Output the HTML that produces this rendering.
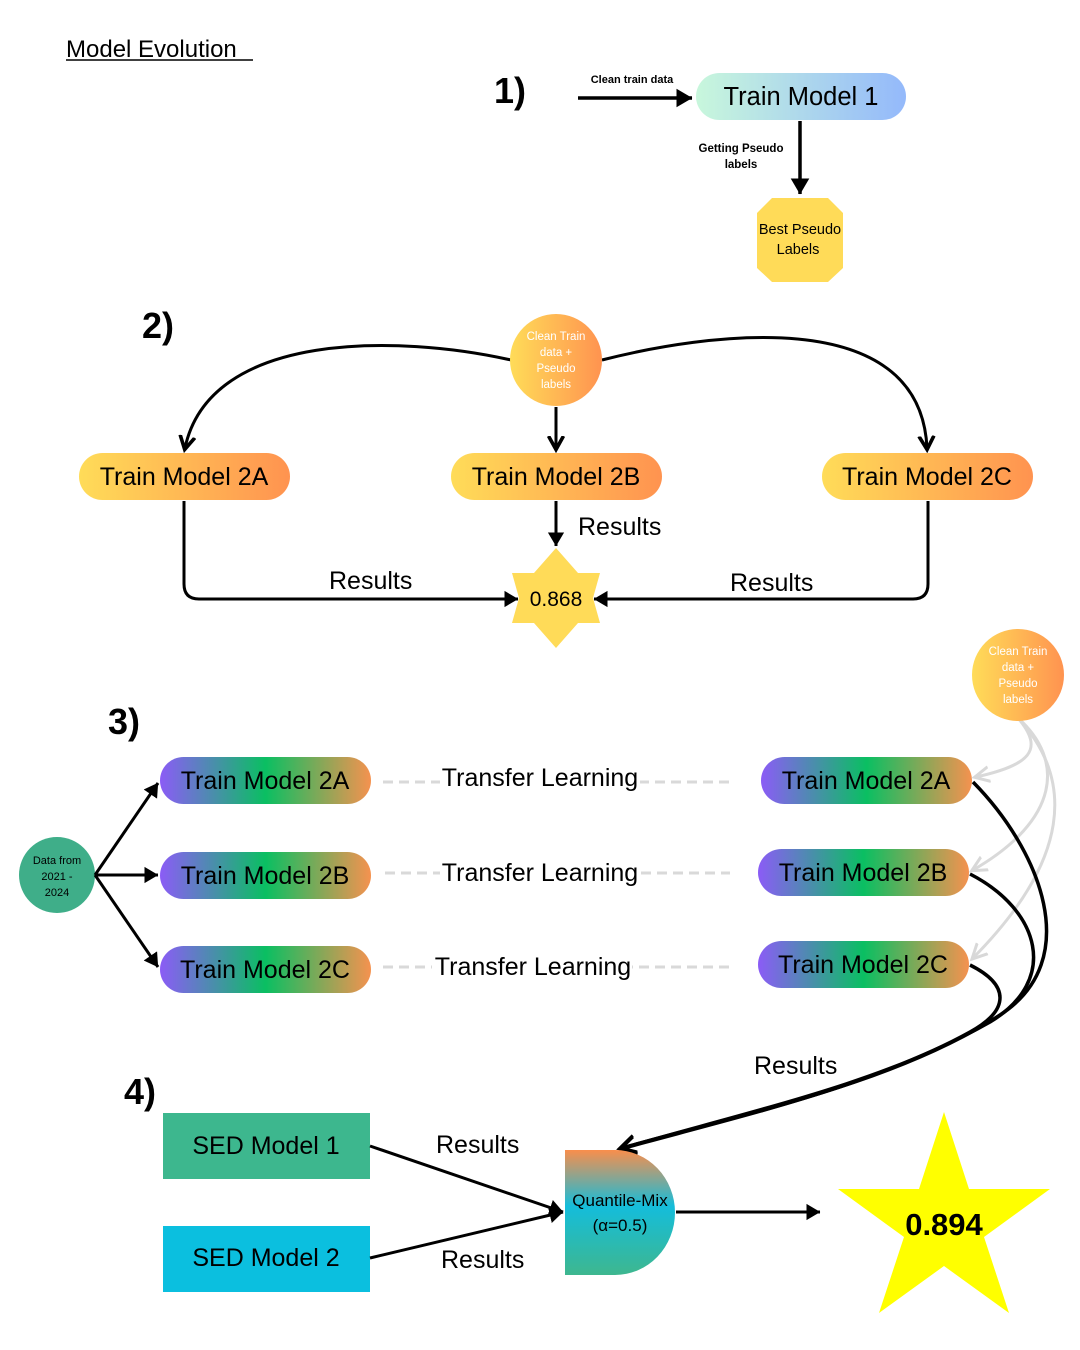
<!DOCTYPE html>
<html><head><meta charset="utf-8"><style>
html,body{margin:0;padding:0;background:#fff}
svg{display:block}
text{font-family:"Liberation Sans",sans-serif}
</style></head><body>
<svg width="1080" height="1350" viewBox="0 0 1080 1350" xmlns="http://www.w3.org/2000/svg">
<defs>
<linearGradient id="g1" x1="0" x2="1"><stop offset="0" stop-color="#c8f7dc"/><stop offset="1" stop-color="#94b9fb"/></linearGradient>
<linearGradient id="g2" x1="0" x2="1"><stop offset="0" stop-color="#ffdc58"/><stop offset="1" stop-color="#ff9350"/></linearGradient>
<linearGradient id="g3" x1="0" x2="1"><stop offset="0" stop-color="#8b5cf6"/><stop offset="0.5" stop-color="#0abf62"/><stop offset="1" stop-color="#f5924f"/></linearGradient>
<linearGradient id="gq" x1="0" y1="0" x2="0" y2="1"><stop offset="0" stop-color="#f98e4c"/><stop offset="0.45" stop-color="#14bddb"/><stop offset="1" stop-color="#3eb78f"/></linearGradient>
<marker id="ah" markerWidth="6" markerHeight="6" refX="4.5" refY="3" orient="auto" markerUnits="strokeWidth"><path d="M0,0.3 L4.6,3 L0,5.7 Z" fill="#000"/></marker>
<marker id="ahg" markerWidth="6" markerHeight="6" refX="4.5" refY="3" orient="auto" markerUnits="strokeWidth"><path d="M0,0.5 L5,3 L0,5.5" fill="none" stroke="#d8d8d8" stroke-width="1"/></marker>
<marker id="ahl" markerWidth="6" markerHeight="6" refX="4" refY="3" orient="auto" markerUnits="strokeWidth"><path d="M0,0.5 L4.5,3 L0,5.5" fill="none" stroke="#000" stroke-width="1.2"/></marker>
</defs>

<text x="66" y="57" font-size="24">Model Evolution </text>
<line x1="66" y1="60" x2="253" y2="60" stroke="#000" stroke-width="1.5"/>

<!-- Section 1 -->
<text x="494" y="103" font-size="36" font-weight="bold">1)</text>
<text x="632" y="83" font-size="11" font-weight="bold" text-anchor="middle">Clean train data</text>
<line x1="578" y1="98" x2="692" y2="98" stroke="#000" stroke-width="3.5" marker-end="url(#ah)"/>
<rect x="696" y="73" width="210" height="47" rx="23.5" fill="url(#g1)"/>
<text x="801" y="105" font-size="25.5" text-anchor="middle">Train Model 1</text>
<line x1="800" y1="121" x2="800" y2="194" stroke="#000" stroke-width="3.5" marker-end="url(#ah)"/>
<text x="741" y="152" font-size="11.5" font-weight="bold" text-anchor="middle">Getting Pseudo</text>
<text x="741" y="168" font-size="11.5" font-weight="bold" text-anchor="middle">labels</text>
<polygon points="772,198 828,198 843,213 843,268 828,282 772,282 757,268 757,213" fill="#ffdb58"/>
<text x="800" y="234" font-size="14.5" text-anchor="middle">Best Pseudo</text>
<text x="798" y="254" font-size="14.5" text-anchor="middle">Labels</text>

<!-- Section 2 -->
<text x="142" y="338" font-size="36" font-weight="bold">2)</text>
<path d="M511,360 C400,335 210,330 185,448" fill="none" stroke="#000" stroke-width="3" marker-end="url(#ahl)"/>
<path d="M602,360 C700,335 920,300 927,448" fill="none" stroke="#000" stroke-width="3" marker-end="url(#ahl)"/>
<circle cx="556" cy="360" r="46" fill="url(#g2)"/>
<g font-size="11.5" fill="#fff" text-anchor="middle"><text x="556" y="340">Clean Train</text><text x="556" y="356">data +</text><text x="556" y="372">Pseudo</text><text x="556" y="388">labels</text></g>
<line x1="556" y1="407" x2="556" y2="448" stroke="#000" stroke-width="3" marker-end="url(#ahl)"/>
<rect x="79" y="453" width="211" height="47" rx="23.5" fill="url(#g2)"/>
<text x="184" y="485" font-size="25" text-anchor="middle">Train Model 2A</text>
<rect x="451" y="453" width="211" height="47" rx="23.5" fill="url(#g2)"/>
<text x="556" y="485" font-size="25" text-anchor="middle">Train Model 2B</text>
<rect x="822" y="453" width="211" height="47" rx="23.5" fill="url(#g2)"/>
<text x="927" y="485" font-size="25" text-anchor="middle">Train Model 2C</text>
<line x1="556" y1="501" x2="556" y2="546" stroke="#000" stroke-width="3" marker-end="url(#ah)"/>
<text x="578" y="535" font-size="25">Results</text>
<path d="M184,501 V584 Q184,599 199,599 H518" fill="none" stroke="#000" stroke-width="3" marker-end="url(#ah)"/>
<path d="M928,501 V584 Q928,599 913,599 H594" fill="none" stroke="#000" stroke-width="3" marker-end="url(#ah)"/>
<text x="329" y="589" font-size="25">Results</text>
<text x="730" y="591" font-size="25">Results</text>
<polygon points="556,548 578,573 600,573 593,598 600,623 578,623 556,648 534,623 512,623 519,598 512,573 534,573" fill="#ffdb58"/>
<text x="556" y="606" font-size="21" text-anchor="middle">0.868</text>

<!-- Section 3 -->
<text x="108" y="734" font-size="36" font-weight="bold">3)</text>
<circle cx="57" cy="875" r="38" fill="#3fae89"/>
<g font-size="11" text-anchor="middle"><text x="57" y="864">Data from</text><text x="57" y="880">2021 -</text><text x="57" y="896">2024</text></g>
<line x1="95" y1="875" x2="158" y2="783" stroke="#000" stroke-width="3" marker-end="url(#ah)"/>
<line x1="95" y1="875" x2="158" y2="875" stroke="#000" stroke-width="3" marker-end="url(#ah)"/>
<line x1="95" y1="875" x2="158" y2="967" stroke="#000" stroke-width="3" marker-end="url(#ah)"/>
<rect x="160" y="757" width="211" height="47" rx="23.5" fill="url(#g3)"/>
<text x="265" y="789" font-size="25" text-anchor="middle">Train Model 2A</text>
<rect x="160" y="852" width="211" height="47" rx="23.5" fill="url(#g3)"/>
<text x="265" y="884" font-size="25" text-anchor="middle">Train Model 2B</text>
<rect x="160" y="946" width="211" height="47" rx="23.5" fill="url(#g3)"/>
<text x="265" y="978" font-size="25" text-anchor="middle">Train Model 2C</text>
<g stroke="#d9d9d9" stroke-width="3" stroke-dasharray="10,6">
<line x1="383" y1="782" x2="730" y2="782"/><line x1="385" y1="873" x2="730" y2="873"/><line x1="383" y1="967" x2="730" y2="967"/>
</g>
<g font-size="25" text-anchor="middle"><rect x="440" y="762" width="200" height="30" fill="#fff"/><text x="540" y="786">Transfer Learning</text>
<rect x="440" y="857" width="200" height="30" fill="#fff"/><text x="540" y="881">Transfer Learning</text>
<rect x="432" y="951" width="200" height="30" fill="#fff"/><text x="533" y="975">Transfer Learning</text></g>
<rect x="761" y="757" width="211" height="47" rx="23.5" fill="url(#g3)"/>
<text x="866" y="789" font-size="25" text-anchor="middle">Train Model 2A</text>
<rect x="758" y="849" width="211" height="47" rx="23.5" fill="url(#g3)"/>
<text x="863" y="881" font-size="25" text-anchor="middle">Train Model 2B</text>
<rect x="758" y="941" width="211" height="47" rx="23.5" fill="url(#g3)"/>
<text x="863" y="973" font-size="25" text-anchor="middle">Train Model 2C</text>
<g fill="none" stroke="#d9d9d9" stroke-width="3">
<path d="M1018,718 C1045,750 1030,765 976,777" marker-end="url(#ahg)"/>
<path d="M1018,718 C1065,760 1060,820 973,870" marker-end="url(#ahg)"/>
<path d="M1018,718 C1075,780 1070,860 973,958" marker-end="url(#ahg)"/>
</g>
<circle cx="1018" cy="675" r="46" fill="url(#g2)"/>
<g font-size="11.5" fill="#fff" text-anchor="middle"><text x="1018" y="655">Clean Train</text><text x="1018" y="671">data +</text><text x="1018" y="687">Pseudo</text><text x="1018" y="703">labels</text></g>
<g fill="none" stroke="#000" stroke-width="3.5">
<path d="M973,782 C1040,850 1085,960 1000,1015 C900,1080 760,1110 622,1148" marker-end="url(#ahl)"/>
<path d="M970,874 C1040,910 1060,980 990,1022 C880,1084 760,1111 624,1148"/>
<path d="M970,965 C1010,985 1010,1010 970,1032 C880,1082 760,1109 626,1147"/>
</g>
<text x="754" y="1074" font-size="25">Results</text>

<!-- Section 4 -->
<text x="124" y="1104" font-size="36" font-weight="bold">4)</text>
<rect x="163" y="1113" width="207" height="66" fill="#3db78e"/>
<text x="266" y="1154" font-size="25" text-anchor="middle">SED Model 1</text>
<rect x="163" y="1226" width="207" height="66" fill="#0bbfdf"/>
<text x="266" y="1266" font-size="25" text-anchor="middle">SED Model 2</text>
<line x1="370" y1="1146" x2="563" y2="1212" stroke="#000" stroke-width="3" marker-end="url(#ah)"/>
<line x1="370" y1="1258" x2="563" y2="1212" stroke="#000" stroke-width="3" marker-end="url(#ah)"/>
<text x="436" y="1153" font-size="25">Results</text>
<text x="441" y="1268" font-size="25">Results</text>
<path d="M565,1150 H615 A60,62.5 0 0 1 615,1275 H565 Z" fill="url(#gq)"/>
<text x="620" y="1206" font-size="17" text-anchor="middle">Quantile-Mix</text>
<text x="620" y="1231" font-size="17" text-anchor="middle">(α=0.5)</text>
<line x1="676" y1="1212" x2="820" y2="1212" stroke="#000" stroke-width="3" marker-end="url(#ah)"/>
<polygon points="944,1112 969,1189 1050,1189 984,1237 1009,1313 944,1266 879,1313 904,1237 838,1189 919,1189" fill="#ffff00"/>
<text x="944" y="1235" font-size="31" font-weight="bold" text-anchor="middle">0.894</text>
</svg>
</body></html>
